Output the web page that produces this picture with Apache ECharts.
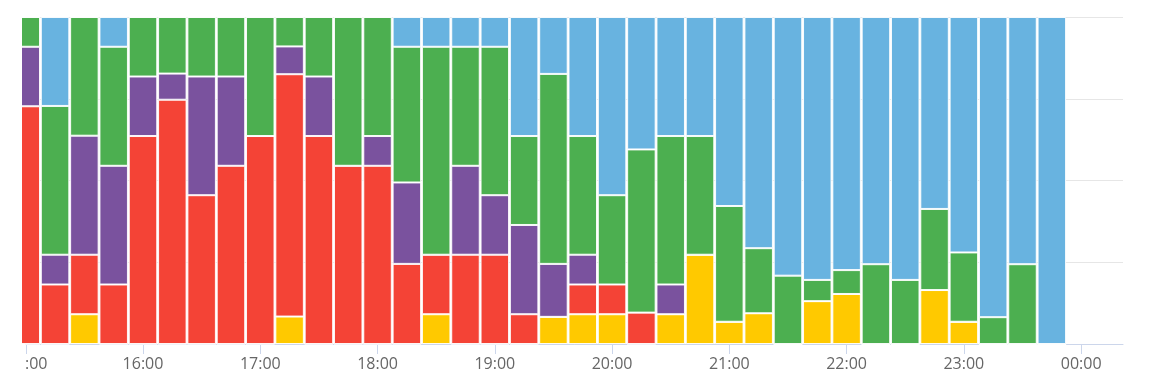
<!DOCTYPE html>
<html>
<head>
<meta charset="utf-8">
<script src="https://cdn.jsdelivr.net/npm/echarts@6/dist/echarts.min.js"></script>
<style>
  html, body { margin: 0; padding: 0; background: #ffffff; overflow: hidden; }
  #wrap { position: relative; width: 1159px; height: 380px; }
  #chart { position: absolute; left: 22px; top: 0; width: 1137px; height: 380px; }
</style>
</head>
<body>
<div id="wrap"><div id="chart"></div></div>
<script>
// 15-minute time slots (bar centres)
const times = ['15:00','15:15','15:30','15:45','16:00','16:15','16:30','16:45',
  '17:00','17:15','17:30','17:45','18:00','18:15','18:30','18:45',
  '19:00','19:15','19:30','19:45','20:00','20:15','20:30','20:45',
  '21:00','21:15','21:30','21:45','22:00','22:15','22:30','22:45',
  '23:00','23:15','23:30','23:45'];

// Share of each category per slot (%), stacked bottom -> top
const yellowValues = [0,0,9.1,0,0,0,0,0, 0,8.4,0,0,0,0,9.1,0, 0,0,8.3,9.1,9.1,0,9.1,27.3, 6.8,9.4,0,13.1,15.3,0,0,16.5, 6.8,0,0,0];
const redValues    = [72.7,18.2,18.2,18.2,63.6,74.7,45.5,54.5, 63.6,74.1,63.6,54.5,54.5,24.5,18.2,27.3, 27.3,9.1,0,9.1,9.1,9.6,0,0, 0,0,0,0,0,0,0,0, 0,0,0,0];
const purpleValues = [18.2,9.1,36.4,36.3,18.2,8.0,36.3,27.3, 0,8.5,18.2,0,9.1,24.9,0,27.2, 18.2,27.3,16.2,9.1,0,0,9.1,0, 0,0,0,0,0,0,0,0, 0,0,0,0];
const greenValues  = [9.1,45.5,36.3,36.4,18.2,17.3,18.2,18.2, 36.4,9.0,18.2,45.5,36.4,41.5,63.6,36.4, 45.4,27.2,58.1,36.3,27.3,49.9,45.4,36.3, 35.4,19.9,20.9,6.5,7.3,24.4,19.6,24.8, 21.2,8.2,24.4,0];
const blueValues   = [0,27.2,0,9.1,0,0,0,0, 0,0,0,0,0,9.1,9.1,9.1, 9.1,36.4,17.4,36.4,54.5,40.5,36.4,36.4, 57.8,70.7,79.1,80.4,77.4,75.6,80.4,58.7, 72.0,91.8,75.6,100];

// Axis tick hours
const tickHours = [15,16,17,18,19,20,21,22,23,24];

function toHours(t) {
  const p = t.split(':');
  return Number(p[0]) + Number(p[1]) / 60;
}
// [value, time] so the value dimension is the stacked one
function pairs(vals) {
  return vals.map((v, i) => [v, toHours(times[i])]);
}

const labelColor = '#666666';
const chart = echarts.init(document.getElementById('chart'), null, { renderer: 'canvas' });

const seriesDefs = [
  { name: 'yellow', color: '#FFC900', values: yellowValues },
  { name: 'red',    color: '#F44336', values: redValues },
  { name: 'purple', color: '#7A529E', values: purpleValues },
  { name: 'green',  color: '#4CAF50', values: greenValues },
  { name: 'blue',   color: '#68B3E0', values: blueValues }
];

chart.setOption({
  animation: false,
  backgroundColor: '#ffffff',
  grid: { left: 0, right: 36, top: 17, bottom: 36 },
  xAxis: {
    type: 'value',
    min: 15,
    max: 24.357,
    axisLine: { show: true, lineStyle: { color: '#ccd6eb', width: 1 } },
    axisTick: { show: true, length: 10, customValues: tickHours, lineStyle: { color: '#ccd6eb' } },
    splitLine: { show: false },
    axisLabel: {
      customValues: tickHours,
      margin: 12,
      color: labelColor,
      fontSize: 16,
      fontFamily: 'Open Sans',
      formatter: function (v) {
        const h = Math.round(v) % 24;
        const s = (h < 10 ? '0' : '') + h + ':00';
        if (Math.round(v) === tickHours[0]) return '{cut|' + s.slice(2) + '}';
        return s;
      },
      rich: {
        cut: { color: labelColor, fontSize: 16, fontFamily: 'Open Sans', padding: [0, 0, 0, 21] }
      }
    }
  },
  yAxis: {
    type: 'value',
    min: 0,
    max: 100,
    interval: 25,
    axisLine: { show: false },
    axisTick: { show: false },
    axisLabel: { show: false },
    splitLine: { show: true, lineStyle: { color: '#e6e6e6', width: 1 } }
  },
  series: seriesDefs.map(d => ({
    name: d.name,
    type: 'bar',
    stack: 'total',
    barWidth: 28.5,
    encode: { x: 1, y: 0 },
    itemStyle: { color: d.color, borderColor: 'rgba(255,255,255,0.9)', borderWidth: 1 },
    emphasis: { disabled: true },
    data: pairs(d.values)
  }))
});
</script>
</body>
</html>
